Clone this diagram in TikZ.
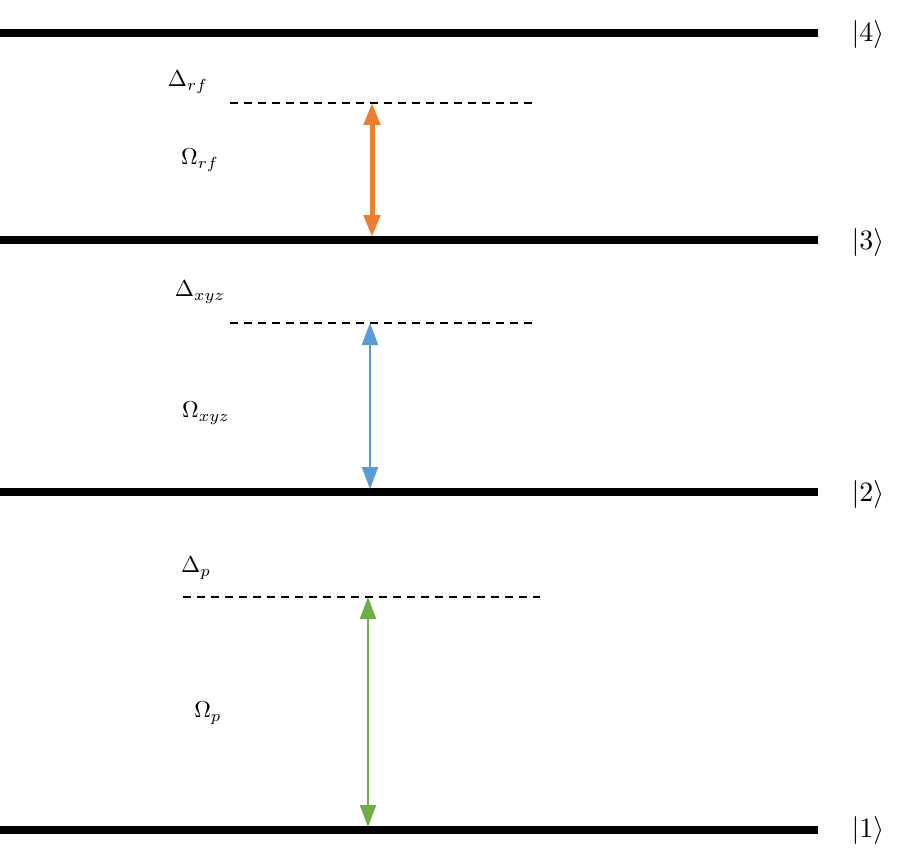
\documentclass[tikz,border=0pt]{standalone}
\usepackage{graphicx}
\usetikzlibrary{arrows.meta}
\newcommand{\scmath}[2]{\scalebox{#1}{$#2$}}
\begin{document}
\begin{tikzpicture}[x=1pt,y=-1pt,
 level/.style={line width=8pt},
 virt/.style={dash pattern=on 8pt off 6pt,line width=1.5pt},
 lab/.style={inner sep=0pt},
 ket/.style={inner sep=0pt},
 coup/.style={line width=#1,{Triangle[width=16pt,length=22pt]}-{Triangle[width=16pt,length=22pt]}}]
\useasboundingbox (0,0) rectangle (904,861);
\coordinate (l4a) at (0,33); \coordinate (l4b) at (818,33);
\coordinate (l3a) at (0,240); \coordinate (l3b) at (818,240);
\coordinate (l2a) at (0,492); \coordinate (l2b) at (818,492);
\coordinate (l1a) at (0,830); \coordinate (l1b) at (818,830);
\draw[level] (l4a)--(l4b); \draw[level] (l3a)--(l3b);
\draw[level] (l2a)--(l2b); \draw[level] (l1a)--(l1b);
\node[ket] (k4) at (868,35) {\scmath{2.8}{|4\rangle}};
\node[ket] (k3) at (868,242) {\scmath{2.8}{|3\rangle}};
\node[ket] (k2) at (868,494) {\scmath{2.8}{|2\rangle}};
\node[ket] (k1) at (868,830) {\scmath{2.8}{|1\rangle}};
\coordinate (d1a) at (230,103); \coordinate (d1b) at (535,103);
\coordinate (d2a) at (230,323); \coordinate (d2b) at (535,323);
\coordinate (d3a) at (183,597); \coordinate (d3b) at (540,597);
\draw[virt] (d1a)--(d1b); \draw[virt] (d2a)--(d2b); \draw[virt] (d3a)--(d3b);
\coordinate (a1t) at (372,103); \coordinate (a1b) at (372,237);
\coordinate (a2t) at (370,323); \coordinate (a2b) at (370,489);
\coordinate (a3t) at (368,597); \coordinate (a3b) at (368,827);
\draw[coup=5pt,color={rgb,255:red,237;green,125;blue,49}] (a1t)--(a1b);
\draw[coup=2.5pt,color={rgb,255:red,91;green,155;blue,213}] (a2t)--(a2b);
\draw[coup=2.5pt,color={rgb,255:red,112;green,173;blue,71}] (a3t)--(a3b);
\node[lab] (D1) at (188,82) {\scmath{2.3}{\Delta_{rf}}};
\node[lab] (O1) at (200,160) {\scmath{2.3}{\Omega_{rf}}};
\node[lab] (D2) at (200,292) {\scmath{2.3}{\Delta_{xyz}}};
\node[lab] (O2) at (206,413) {\scmath{2.3}{\Omega_{xyz}}};
\node[lab] (D3) at (196,568) {\scmath{2.3}{\Delta_{p}}};
\node[lab] (O3) at (208,713) {\scmath{2.3}{\Omega_{p}}};
\end{tikzpicture}
\end{document}
